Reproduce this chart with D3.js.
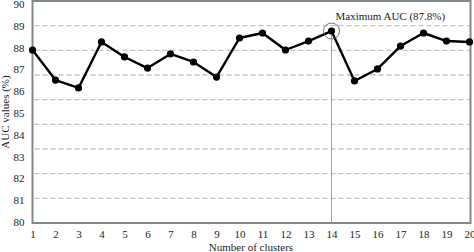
<!DOCTYPE html>
<html>
<head>
<meta charset="utf-8">
<script src="https://cdn.jsdelivr.net/npm/d3@7"></script>
<style>
  html, body { margin: 0; padding: 0; background: #fff; }
  svg { display: block; font-family: "Liberation Serif", "DejaVu Serif", serif; }
</style>
</head>
<body>
<svg id="chart"></svg>
<script>
const clusters = d3.range(1, 21);
const aucValues = [87.89, 86.51, 86.15, 88.26, 87.57, 87.06, 87.71, 87.34, 86.65, 88.44,
                   88.67, 87.89, 88.30, 88.76, 86.47, 87.02, 88.07, 88.67, 88.30, 88.26];
const yTicks = d3.range(80, 91);
const maxLabel = 'Maximum AUC (87.8%)';
const maxCluster = 14;

const W = 474, H = 252;
const boxL = 32.5, boxR = 469.5, boxT = 1, boxB = 223;

const svg = d3.select('#chart').attr('width', W).attr('height', H);

const data = clusters.map((c, i) => ({ c, v: aucValues[i] }));

const x = d3.scaleLinear().domain([1, 20]).range([boxL, boxR]);
const y = d3.scaleLinear().domain([80, 90]).range([222, 4]);
// the dashed grid in the picture splits the box into 9 equal bands
const grid = d3.scaleLinear().domain([0, 9]).range([boxB, boxT]);

svg.selectAll('.grid')
  .data(d3.range(1, 9))
  .enter()
  .append('line')
  .attr('x1', boxL + 2).attr('x2', boxR)
  .attr('y1', d => grid(d)).attr('y2', d => grid(d))
  .attr('stroke', '#c4c4c4')
  .attr('stroke-width', 1.3)
  .attr('stroke-dasharray', '5,3');

// box frame
svg.append('rect')
  .attr('x', boxL).attr('y', boxT)
  .attr('width', boxR + 1 - boxL).attr('height', boxB - boxT)
  .attr('fill', 'none')
  .attr('stroke', '#7e8b89')
  .attr('stroke-width', 2);

// axes: labels only
const yAxis = svg.append('g')
  .attr('transform', `translate(${boxL - 4}, 0)`)
  .call(d3.axisLeft(y).tickValues(yTicks).tickSize(0).tickPadding(4));
yAxis.select('.domain').remove();
yAxis.selectAll('text').attr('font-size', 11).attr('fill', '#222').attr('font-family', 'Liberation Serif');

const xAxis = svg.append('g')
  .attr('transform', `translate(0, ${boxB + 5})`)
  .call(d3.axisBottom(x).tickValues(clusters).tickFormat(d3.format('d')).tickSize(0).tickPadding(2));
xAxis.select('.domain').remove();
xAxis.selectAll('text').attr('font-size', 11).attr('fill', '#222').attr('font-family', 'Liberation Serif');

svg.append('text')
  .attr('x', (boxL + boxR) / 2).attr('y', 251)
  .attr('text-anchor', 'middle')
  .attr('font-size', 11).attr('fill', '#222')
  .text('Number of clusters');

svg.append('text')
  .attr('transform', `translate(9, 112) rotate(-90)`)
  .attr('text-anchor', 'middle')
  .attr('font-size', 11).attr('fill', '#222')
  .text('AUC values (%)');

// max marker
const maxPt = data.find(d => d.c === maxCluster);
svg.append('line')
  .attr('x1', x(maxPt.c)).attr('x2', x(maxPt.c))
  .attr('y1', y(maxPt.v)).attr('y2', boxB)
  .attr('stroke', '#9aa3a2').attr('stroke-width', 1);

const line = d3.line().x(d => x(d.c)).y(d => y(d.v));
svg.append('path')
  .datum(data)
  .attr('fill', 'none')
  .attr('stroke', '#000')
  .attr('stroke-width', 2.4)
  .attr('stroke-linejoin', 'round')
  .attr('d', line);

svg.selectAll('.dot')
  .data(data)
  .enter()
  .append('circle')
  .attr('cx', d => x(d.c))
  .attr('cy', d => y(d.v))
  .attr('r', 3.6)
  .attr('fill', '#000');

svg.append('circle')
  .attr('cx', x(maxPt.c)).attr('cy', y(maxPt.v))
  .attr('r', 8)
  .attr('fill', 'none')
  .attr('stroke', '#666').attr('stroke-width', 0.9);

svg.append('text')
  .attr('x', x(maxPt.c) + 4).attr('y', 20)
  .attr('font-size', 11).attr('fill', '#222')
  .text(maxLabel);
</script>
</body>
</html>
